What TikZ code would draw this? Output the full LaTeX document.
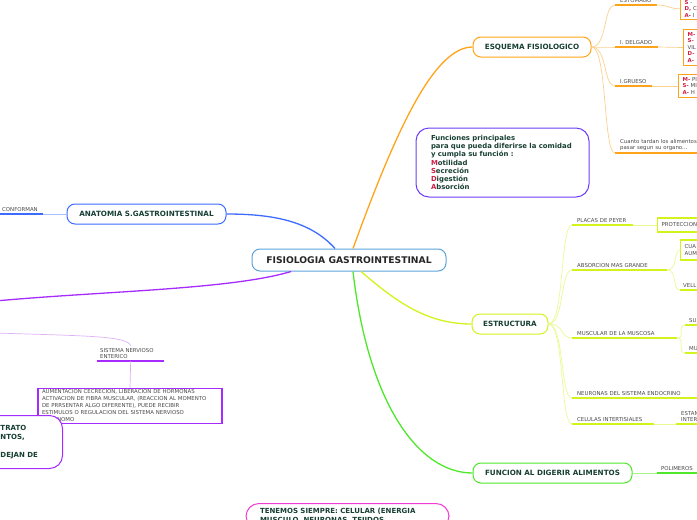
\documentclass[tikz,border=0pt]{standalone}
\usepackage{fontspec}
\setmainfont{DejaVu Sans}
\usepackage{xcolor}
\usepackage{tikz}
\usetikzlibrary{positioning}
\definecolor{rootblue}{HTML}{5BA4DB}
\definecolor{anatblue}{HTML}{3D6BFF}
\definecolor{anatlight}{HTML}{A9BEFF}
\definecolor{esqorange}{HTML}{FFA31A}
\definecolor{esqlight}{HTML}{FBD08E}
\definecolor{funcviolet}{HTML}{6B3DF5}
\definecolor{estrlime}{HTML}{D4F21C}
\definecolor{estrlight}{HTML}{E8FA94}
\definecolor{funcgreen}{HTML}{4EE82A}
\definecolor{funclight}{HTML}{A8F590}
\definecolor{nervpurple}{HTML}{A62BFF}
\definecolor{nervlight}{HTML}{DDB0F7}
\definecolor{tenmagenta}{HTML}{F23AD4}
\definecolor{darkgreen}{HTML}{173F33}
\definecolor{labelgray}{HTML}{4A4A4A}
\definecolor{initred}{HTML}{D01F45}
\newcommand{\inicial}[1]{\textcolor{initred}{\bfseries #1}}

\begin{document}
\begin{tikzpicture}[x=1pt, y=-1pt,
  topic/.style={rectangle, draw, fill=white, rounded corners=8pt, line width=1pt, minimum height=20pt, inner sep=0pt, text=darkgreen, font=\fontsize{7.2}{8.5}\selectfont\bfseries},
  root/.style={topic, draw=rootblue, minimum height=22pt, text=black!85, font=\fontsize{9.2}{10}\selectfont\bfseries},
  notebox/.style={rectangle, draw, fill=white, rounded corners=13pt, line width=1pt, align=left, text=darkgreen, font=\fontsize{6.9}{8.3}\selectfont\bfseries},
  lbl/.style={anchor=south west, inner xsep=5pt, inner ysep=2pt, align=left, text=labelgray, font=\fontsize{5.4}{6.6}\selectfont},
  sbox/.style={rectangle, draw, fill=white, line width=1.4pt, inner xsep=4pt, inner ysep=2pt, align=left, text=labelgray, font=\fontsize{5.4}{6.5}\selectfont},
  mainline/.style={line width=1.3pt},
  branch/.style={line width=0.7pt},
  uline/.style={line width=1.6pt}
]
\useasboundingbox (0,0) rectangle (697,520);
\clip (0,0) rectangle (697,520);

% centro
\node[root, minimum width=194pt] (fisio) at (349,260) {FISIOLOGIA GASTROINTESTINAL};

% temas
\node[topic, draw=anatblue, minimum width=159pt] (anat) at (146.5,214) {ANATOMIA S.GASTROINTESTINAL};
\node[topic, draw=esqorange, minimum width=118pt] (esquema) at (532,47) {ESQUEMA FISIOLOGICO};
\node[topic, draw=estrlime, minimum width=76pt] (estructura) at (510,324) {ESTRUCTURA};
\node[topic, draw=funcgreen, minimum width=159pt] (funcion) at (552.5,473) {FUNCION AL DIGERIR ALIMENTOS};
\coordinate (nervfar) at (-5,301);

\draw[mainline, anatblue] ([xshift=-14pt]fisio.north) .. controls +(-25,-28) and +(45,0) .. (anat.east);
\draw[mainline, esqorange] ([xshift=4pt]fisio.north) .. controls +(40,-110) and +(-40,0) .. (esquema.west);
\draw[mainline, estrlime] ([xshift=12pt]fisio.south) .. controls +(35,30) and +(-45,0) .. (estructura.west);
\draw[mainline, funcgreen] ([xshift=4pt]fisio.south) .. controls +(15,130) and +(-55,0) .. (funcion.west);
\draw[mainline, nervpurple] ([xshift=-58pt]fisio.south) .. controls +(-60,18) and +(110,-10) .. (nervfar);

% notas
\node[notebox, draw=funcviolet, inner xsep=15pt, text width=143pt, minimum height=69pt] (principales) at (502.5,162.5)
  {Funciones principales\\para que pueda diferirse la comidad\\y cumpla su función :\\\inicial{M}otilidad\\\inicial{S}ecreción\\\inicial{D}igestión\\\inicial{A}bsorción};
\node[notebox, draw=tenmagenta, anchor=north, inner xsep=14pt, inner ysep=5pt, text width=175pt, font=\fontsize{7}{8.5}\selectfont\bfseries] (tenemos) at (347.5,503)
  {TENEMOS SIEMPRE: CELULAR (ENERGIA\\MUSCULO, NEURONAS, TEJIDOS};

% anatomia
\node[lbl, inner xsep=2pt, text width=39pt] (conforman) at (0,214) {CONFORMAN};
\draw[uline, anatblue] (conforman.south west) -- (conforman.south east);
\draw[branch, anatlight] (conforman.south east) -- (anat.west);

% esquema fisiologico
\node[lbl, text width=32pt] (estomago) at (615,5) {ESTOMAGO};
\node[lbl, text width=33pt] (delgado) at (615,47) {I. DELGADO};
\node[lbl, text width=27pt] (grueso) at (615,86) {I.GRUESO};
\node[lbl, text width=95pt] (tardan) at (615,153) {Cuanto tardan los alimentos en\\pasar segun su organo...};
\foreach \n in {estomago,delgado,grueso,tardan} {
  \draw[branch, esqlight] (esquema.east) .. controls +(16,0) and +(-12,0) .. (\n.south west);
  \draw[uline, esqorange] (\n.south west) -- (\n.south east);
}
\node[sbox, draw=esqorange, anchor=south west, text width=40pt] (estbox) at (680,20)
  {\inicial{S} - \\\inicial{D,} C\\\inicial{A-} I};
\node[sbox, draw=esqorange, anchor=west, inner ysep=3pt, text width=40pt] (delbox) at (683,47.5)
  {\inicial{M-}\\\inicial{S-}\\VIL\\\inicial{D-}\\\inicial{A-}};
\node[sbox, draw=esqorange, anchor=west, inner ysep=3pt, text width=40pt] (grubox) at (678,86)
  {\inicial{M-} PI\\\inicial{S-} MI\\\inicial{A-} H};
\draw[branch, esqlight] (estomago.south east) .. controls +(10,0) and +(-10,0) .. (estbox.west);
\draw[branch, esqlight] (delgado.south east) -- (delbox.west);
\draw[branch, esqlight] (grueso.south east) -- (grubox.west);

% estructura
\node[lbl, text width=51pt] (peyer) at (572,225) {PLACAS DE PEYER};
\node[lbl, text width=85pt] (absorcion) at (572,270) {ABSORCION MAS GRANDE};
\node[lbl, text width=95pt] (muscular) at (572,338) {MUSCULAR DE LA MUSCOSA};
\node[lbl, text width=130pt] (neuronas) at (572,398) {NEURONAS DEL SISTEMA ENDOCRINO};
\node[lbl, text width=72pt] (celulas) at (572,424) {CELULAS INTERTISIALES};
\foreach \n in {peyer,absorcion,muscular,neuronas,celulas} {
  \draw[branch, estrlight] (estructura.east) .. controls +(16,0) and +(-12,0) .. (\n.south west);
  \draw[uline, estrlime] (\n.south west) -- (\n.south east);
}
\node[sbox, draw=estrlime, anchor=west, minimum height=14pt, text width=50pt] (proteccion) at (657,225) {PROTECCION};
\node[sbox, draw=estrlime, anchor=west, minimum height=20pt, text width=30pt] (cuabox) at (680,250) {CUA\\AUM};
\node[lbl, inner xsep=3pt, text width=20pt] (vell) at (680,290) {VELL};
\node[lbl, inner xsep=4pt, text width=20pt] (su) at (685,325) {SU};
\node[lbl, inner xsep=4pt, text width=20pt] (mu) at (685,353) {MU};
\node[lbl, text width=30pt] (estan) at (676,424) {ESTAN\\INTER};
\draw[branch, estrlight] (peyer.south east) -- (proteccion.west);
\draw[branch, estrlight] (absorcion.south east) .. controls +(10,0) and +(-6,0) .. (cuabox.west);
\draw[branch, estrlight] (absorcion.south east) .. controls +(10,0) and +(-8,0) .. (vell.south west);
\draw[branch, estrlight] (muscular.south east) .. controls +(8,0) and +(-8,0) .. (su.south west);
\draw[branch, estrlight] (muscular.south east) .. controls +(8,0) and +(-8,0) .. (mu.south west);
\draw[branch, estrlight] (celulas.south east) -- (estan.south west);
\foreach \n in {vell,su,mu,estan}
  \draw[uline, estrlime] (\n.south west) -- (\n.south east);

% funcion
\node[lbl, inner xsep=4pt, text width=40pt] (polimeros) at (657,473) {POLIMEROS};
\draw[branch, funclight] (funcion.east) -- (polimeros.south west);
\draw[uline, funcgreen] (polimeros.south west) -- (polimeros.south east);

% sistema nervioso
\coordinate (nervleft) at (-5,333);
\node[lbl, inner xsep=3pt, text width=61pt] (sistema) at (97,361) {SISTEMA NERVIOSO\\ENTERICO};
\draw[branch, nervlight] (nervleft) .. controls (90,336) and (128,336) .. (sistema.north);
\draw[uline, nervpurple] (sistema.south west) -- (sistema.south east);
\node[sbox, draw=nervpurple, inner ysep=1.5pt, text width=176pt, font=\fontsize{5.4}{7}\selectfont] (regula) at (130,406)
  {AUMENTACION CECRECION, LIBERACION DE HORMONAS\\ACTIVACION DE FIBRA MUSCULAR, (REACCION AL MOMENTO\\DE PRRSENTAR ALGO DIFERENTE), PUEDE RECIBIR\\ESTIMULOS O REGULACION DEL SISTEMA NERVIOSO\\AUTONOMO};
\draw[branch, nervlight] (sistema.south) -- (regula.north);
\node[notebox, draw=nervpurple, anchor=north east, inner xsep=14pt, text width=48pt, minimum height=53pt, font=\fontsize{7}{9}\selectfont\bfseries] (trato) at (63,415)
  {TRATO\\NTOS,\\[9pt]DEJAN DE};
\end{tikzpicture}
\end{document}
